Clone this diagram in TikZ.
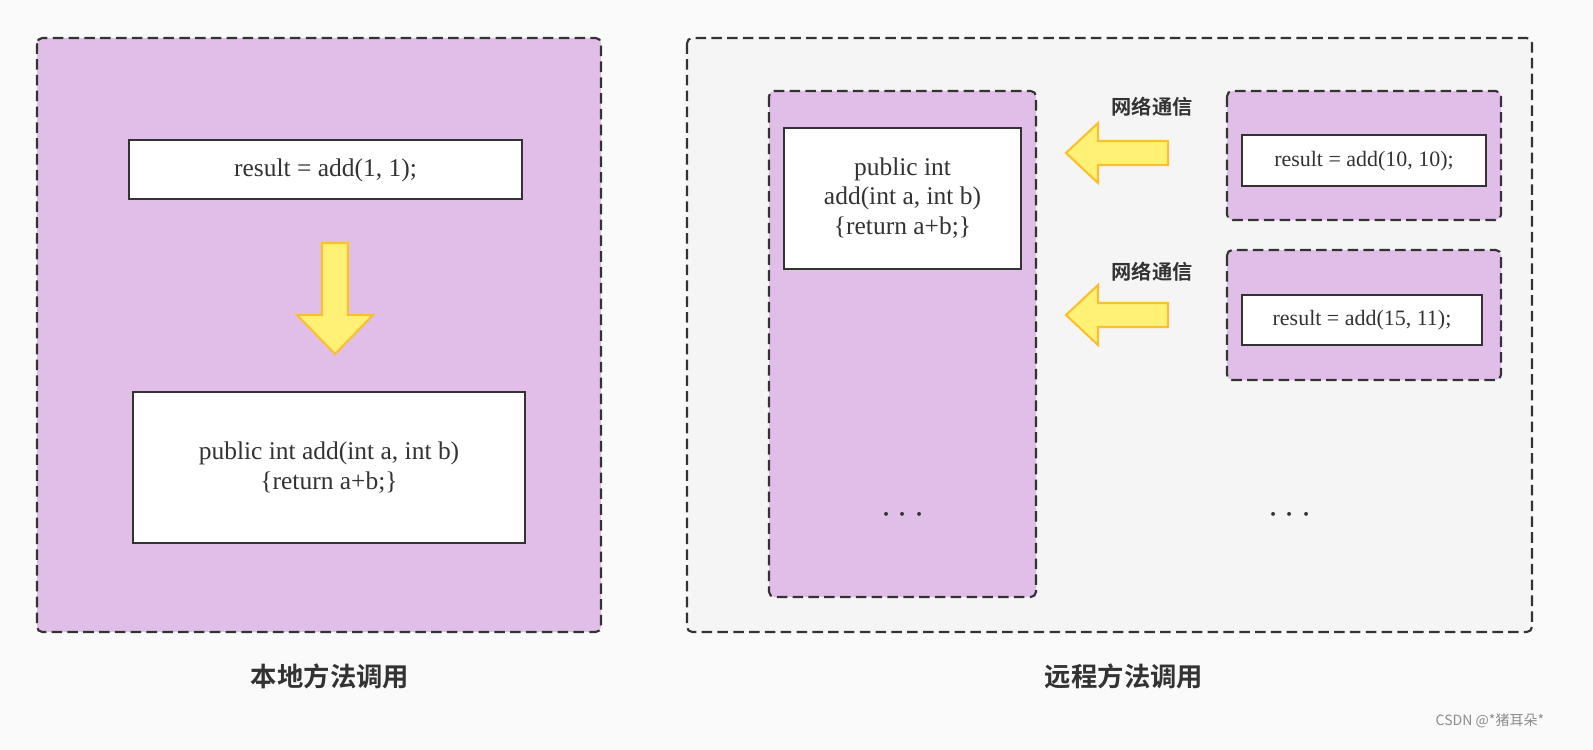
\documentclass[tikz,border=0pt]{standalone}
\usepackage{fontspec}
\setmainfont{Liberation Serif}
\newfontfamily\cjk{Noto Sans CJK SC}[BoldFont={* Bold}]
\begin{document}
\begin{tikzpicture}[x=0.02cm,y=-0.02cm,
  frame/.style={draw=black!80,dashed,dash pattern=on 6pt off 3pt,line width=1.2pt,rounded corners=3pt},
  codebox/.style={draw=black!80,line width=1.3pt,fill=white},
  yarrow/.style={draw=ybord,fill=yfill,line width=1.2pt},
  code/.style={font=\fontsize{14.5}{17}\selectfont,text=black!80,align=center},
  lbl/.style={font=\cjk\bfseries\fontsize{11.5}{13}\selectfont,text=black!80}]
\definecolor{pur}{HTML}{E1BEE7}
\definecolor{yfill}{HTML}{FFF176}
\definecolor{ybord}{HTML}{FBC02D}
\fill[black!2] (0,0) rectangle (1593,750);
% left
\draw[frame,fill=pur] (37,38) rectangle (601,632);
\draw[codebox] (129,140) rectangle (522,199);
\node[code] (r1) at (325.5,170) {result = add(1, 1);};
\draw[yarrow] (322,243) -- (348,243) -- (348,315) -- (373,315) -- (335,354) -- (297,315) -- (322,315) -- cycle;
\draw[codebox] (133,392) rectangle (525,543);
\node[code] (f1) at (329,468) {public int add(int a, int b)\\\{return a+b;\}};
\node[font=\cjk\bfseries\fontsize{15}{18}\selectfont,text=black!80] (t1) at (330,676) {本地方法调用};
% right
\draw[frame,fill=black!4] (687,38) rectangle (1532,632);
\draw[frame,fill=pur] (769,91) rectangle (1036,597);
\draw[codebox] (784,128) rectangle (1021,269);
\node[code] (f2) at (902.5,198) {public int\\add(int a, int b)\\\{return a+b;\}};
\draw[frame,fill=pur] (1227,91) rectangle (1501,220);
\draw[codebox] (1242,135) rectangle (1486,186);
\node[code,font=\fontsize{12.5}{15}\selectfont] (c1) at (1364,161) {result = add(10, 10);};
\draw[frame,fill=pur] (1227,250) rectangle (1501,380);
\draw[codebox] (1242,295) rectangle (1482,345);
\node[code,font=\fontsize{12.5}{15}\selectfont] (c2) at (1362,320) {result = add(15, 11);};
\foreach \y in {153,315}{
 \draw[yarrow] (1168,\y-12) -- (1098,\y-12) -- (1098,\y-30) -- (1066,\y) -- (1098,\y+30) -- (1098,\y+12) -- (1168,\y+12) -- cycle;}
\node[lbl] (n1) at (1152,107) {网络通信};
\node[lbl] (n2) at (1152,272) {网络通信};
\node[font=\fontsize{22}{24}\selectfont,text=black!80] (d1) at (903,515) {$\cdots$};
\node[font=\fontsize{22}{24}\selectfont,text=black!80] (d2) at (1290,515) {$\cdots$};
\node[font=\cjk\bfseries\fontsize{15}{18}\selectfont,text=black!80] (t2) at (1124,676) {远程方法调用};
\node[font=\cjk\fontsize{8}{10}\selectfont,text=black!45] (w) at (1490,721) {CSDN @*猪耳朵*};
\pgfresetboundingbox
\useasboundingbox (0,0) rectangle (1593,750);
\end{tikzpicture}
\end{document}
